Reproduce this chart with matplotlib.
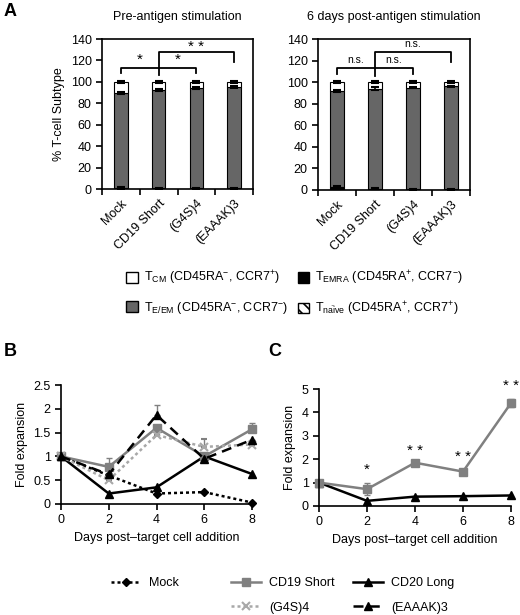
import numpy as np
import matplotlib
matplotlib.use('Agg')
import matplotlib.pyplot as plt
from matplotlib.patches import Patch
from matplotlib.lines import Line2D

plt.rcParams['font.family'] = ['Liberation Sans', 'DejaVu Sans']
plt.rcParams['mathtext.fontset'] = 'custom'
plt.rcParams['mathtext.rm'] = 'Liberation Sans'
plt.rcParams['mathtext.it'] = 'Liberation Sans:italic'
plt.rcParams['hatch.linewidth'] = 1.2

# ---- panel A data ----
groups = ['Mock', 'CD19 Short', '(G4S)4', '(EAAAK)3']
pre_emra = [1.0, 0.5, 0.5, 0.5]
pre_naive = [0.3, 0.2, 0.2, 0.2]
pre_eem_top = [89.5, 92.5, 94.0, 95.0]
pre_eem_err = [1.0, 0.8, 0.8, 0.8]
pre_cm_err = [1.0, 0.8, 0.8, 0.8]
post_emra = [2.5, 1.0, 0.5, 0.5]
post_naive = [0.3, 0.2, 0.2, 0.2]
post_eem_top = [92.0, 94.0, 95.0, 96.0]
post_eem_err = [1.0, 1.2, 0.6, 0.8]
post_cm_err = [1.2, 1.2, 0.6, 0.8]
emra_err = [[0.8, 0.3, 0.3, 0.3], [1.5, 0.5, 0.3, 0.3]]

# ---- panel B data ----
days = [0, 2, 4, 6, 8]
mock_b = [1.0, 0.6, 0.22, 0.25, 0.03]
cd19_b = [1.0, 0.78, 1.6, 1.0, 1.57]
cd19_b_err = [0, 0.18, 0, 0, 0.14]
cd20_b = [1.0, 0.22, 0.35, 1.0, 0.63]
g4s_b = [1.0, 0.5, 1.45, 1.2, 1.25]
g4s_b_err = [0, 0, 0, 0.17, 0]
eaaak_b = [1.0, 0.62, 1.87, 0.95, 1.35]
eaaak_b_err = [0, 0, 0.22, 0, 0]

# ---- panel C data ----
cd19_c = [1.0, 0.72, 1.85, 1.47, 4.4]
cd19_c_err = [0, 0.27, 0.08, 0.08, 0.17]
cd20_c = [1.0, 0.22, 0.4, 0.42, 0.45]
c_stars = ['', '*', '* *', '* *', '* *']
c_star_y = [0, 1.25, 2.05, 1.78, 4.85]

W, H = 520, 615
fig = plt.figure(figsize=(W / 100, H / 100), dpi=100)

def px_axes(x0, y0, x1, y1):
    return fig.add_axes([x0 / W, 1 - y1 / H, (x1 - x0) / W, (y1 - y0) / H])

EEM_COLOR = '#666666'
FS = 9


def bar_panel(ax, emra, naive, eem_top, eem_err, cm_err, emra_e, title, labels):
    x = np.arange(len(groups))
    w = 0.36
    emra = np.array(emra)
    naive = np.array(naive)
    eem = np.array(eem_top) - emra - naive
    cm = 100 - np.array(eem_top)
    ax.bar(x, emra, w, color='black', edgecolor='black', lw=0.8)
    ax.bar(x, naive, w, bottom=emra, color='white', edgecolor='black', hatch='\\\\\\', lw=0.8)
    ax.bar(x, eem, w, bottom=emra + naive, color=EEM_COLOR, edgecolor='black', lw=0.8)
    ax.bar(x, cm, w, bottom=eem_top, color='white', edgecolor='black', lw=0.8)
    ax.errorbar(x, eem_top, yerr=eem_err, fmt='none', ecolor='black', capsize=3, lw=1.2, capthick=1.5)
    ax.errorbar(x, np.full(4, 100.0), yerr=cm_err, fmt='none', ecolor='black', capsize=3, lw=1.2, capthick=1.5)
    ax.errorbar(x, emra, yerr=emra_e, fmt='none', ecolor='black', capsize=3, lw=1.2, capthick=1.5)
    ax.set_xlim(-0.5, 3.5)
    ax.set_ylim(0, 140)
    ax.set_yticks(range(0, 141, 20))
    ax.set_xticks(x)
    ax.set_xticklabels(groups, rotation=45, ha='right', rotation_mode='anchor')
    ax.set_xticks([-0.5, 0.5, 1.5, 2.5, 3.5], minor=True)
    ax.tick_params(axis='x', which='major', length=0, pad=6, labelsize=FS)
    ax.tick_params(axis='x', which='minor', length=4, width=1.2, direction='out')
    ax.tick_params(axis='y', length=4, width=1.2, direction='out', labelsize=FS)
    for s in ax.spines.values():
        s.set_linewidth(1.2)
    ax.set_title(title, fontsize=FS, pad=14)
    # significance brackets
    lw = 1.3
    kw = dict(color='black', lw=lw, clip_on=False)
    ax.plot([0, 0, 1, 1], [108, 113, 113, 106], **kw)
    ax.plot([1, 1, 2, 2], [113, 113, 113, 108], **kw)
    ax.plot([1, 1, 3, 3], [113, 128, 128, 119], **kw)
    if labels[0] == '*':
        tfs = 11
        dy = 0
        dy2 = -3
    else:
        tfs = 7.5
        dy = 2
        dy2 = 2
    ax.text(0.5, 114 + dy, labels[0], ha='center', va='bottom', fontsize=tfs)
    ax.text(1.5, 114 + dy, labels[1], ha='center', va='bottom', fontsize=tfs)
    ax.text(2.0, 129 + dy2, labels[2], ha='center', va='bottom', fontsize=tfs)


axA1 = px_axes(102, 39, 253, 189)
bar_panel(axA1, pre_emra, pre_naive, pre_eem_top, pre_eem_err, pre_cm_err, emra_err[0],
          'Pre-antigen stimulation', ['*', '*', '* *'])
axA1.set_ylabel('% T-cell Subtype', fontsize=FS)

axA2 = px_axes(318, 39, 470, 190)
bar_panel(axA2, post_emra, post_naive, post_eem_top, post_eem_err, post_cm_err, emra_err[1],
          '6 days post-antigen stimulation', ['n.s.', 'n.s.', 'n.s.'])

fig.text(4 / W, 1 - 12 / H, 'A', fontsize=13, fontweight='bold', va='center')
fig.text(4 / W, 1 - 352 / H, 'B', fontsize=13, fontweight='bold', va='center')
fig.text(268 / W, 1 - 352 / H, 'C', fontsize=13, fontweight='bold', va='center')

# panel A legend
a_handles = [
    Patch(facecolor='white', edgecolor='black', lw=1),
    Patch(facecolor=EEM_COLOR, edgecolor='black', lw=1),
    Patch(facecolor='black', edgecolor='black', lw=1),
    Patch(facecolor='white', edgecolor='black', hatch='\\\\\\', lw=1),
]
a_labels = [
    r'T$_{\mathrm{CM}}$ (CD45RA$^{-}$, CCR7$^{+}$)',
    r'T$_{\mathrm{E/EM}}$ (CD45RA$^{-}$, CCR7$^{-}$)',
    r'T$_{\mathrm{EMRA}}$ (CD45RA$^{+}$, CCR7$^{-}$)',
    r'T$_{\mathrm{na\"ive}}$ (CD45RA$^{+}$, CCR7$^{+}$)',
]
fig.legend(a_handles, a_labels, ncol=2, loc='upper left', bbox_to_anchor=(115 / W, 1 - 258 / H),
           frameon=False, fontsize=FS, handlelength=0.9, handleheight=0.9, handletextpad=0.5,
           labelspacing=1.0, columnspacing=0.8)


def line_axes(ax, ymax, yticks, yticklabels):
    ax.set_xlim(0, 8)
    ax.set_ylim(0, ymax)
    ax.set_xticks(days)
    ax.set_yticks(yticks)
    ax.set_yticklabels(yticklabels)
    ax.spines['top'].set_visible(False)
    ax.spines['right'].set_visible(False)
    for s in ['left', 'bottom']:
        ax.spines[s].set_linewidth(1.2)
    ax.tick_params(length=4, width=1.2, direction='out', labelsize=FS)
    ax.set_xlabel('Days post–target cell addition', fontsize=FS)
    ax.set_ylabel('Fold expansion', fontsize=FS)


GRAY = '#808080'
LGRAY = '#a8a8a8'
mock_kw = dict(color='black', ls=(0, (1.2, 1.2)), lw=1.8, marker='D', ms=4.5, clip_on=False)
cd19_kw = dict(color=GRAY, ls='-', lw=1.8, marker='s', ms=6, clip_on=False)
cd20_kw = dict(color='black', ls='-', lw=1.8, marker='^', ms=6, clip_on=False)
g4s_kw = dict(color=LGRAY, ls=(0, (1.2, 1.2)), lw=1.8, marker='x', ms=6, mew=1.5, clip_on=False)
eaaak_kw = dict(color='black', ls=(0, (4, 2.5)), lw=1.8, marker='^', ms=6, clip_on=False)

axB = px_axes(61, 385, 252, 504)
axB.errorbar(days, cd19_b, yerr=[np.zeros(5), cd19_b_err], ecolor=GRAY, capsize=2.5, elinewidth=1, **cd19_kw)
axB.errorbar(days, g4s_b, yerr=[np.zeros(5), g4s_b_err], ecolor=GRAY, capsize=2.5, elinewidth=1, **g4s_kw)
axB.plot(days, mock_b, **mock_kw)
axB.plot(days, cd20_b, **cd20_kw)
axB.errorbar(days, eaaak_b, yerr=[np.zeros(5), eaaak_b_err], ecolor=GRAY, capsize=2.5, elinewidth=1, **eaaak_kw)
line_axes(axB, 2.5, [0, 0.5, 1, 1.5, 2, 2.5], ['0', '0.5', '1', '1.5', '2', '2.5'])

axC = px_axes(319, 389, 511, 506)
axC.errorbar(days, cd19_c, yerr=cd19_c_err, ecolor=GRAY, capsize=2.5, elinewidth=1, **cd19_kw)
axC.plot(days, cd20_c, **cd20_kw)
for d, s, y in zip(days, c_stars, c_star_y):
    if s:
        axC.text(d, y, s, ha='center', va='bottom', fontsize=11, clip_on=False)
line_axes(axC, 5, range(6), [str(i) for i in range(6)])

# bottom legend (three columns)
def mk(kw):
    k = {key: v for key, v in kw.items() if key != 'clip_on'}
    return Line2D([], [], **k)

leg_kw = dict(frameon=False, fontsize=FS, handlelength=2.4, handletextpad=0.6, labelspacing=1.0, loc='upper left')
fig.legend([mk(mock_kw)], ['Mock'], bbox_to_anchor=(100 / W, 1 - 566 / H), **leg_kw)
fig.legend([mk(cd19_kw), mk(g4s_kw)], ['CD19 Short', '(G4S)4'], bbox_to_anchor=(220 / W, 1 - 566 / H), **leg_kw)
fig.legend([mk(cd20_kw), mk(eaaak_kw)], ['CD20 Long', '(EAAAK)3'], bbox_to_anchor=(342 / W, 1 - 566 / H), **leg_kw)

fig.savefig('out.png', dpi=100)
